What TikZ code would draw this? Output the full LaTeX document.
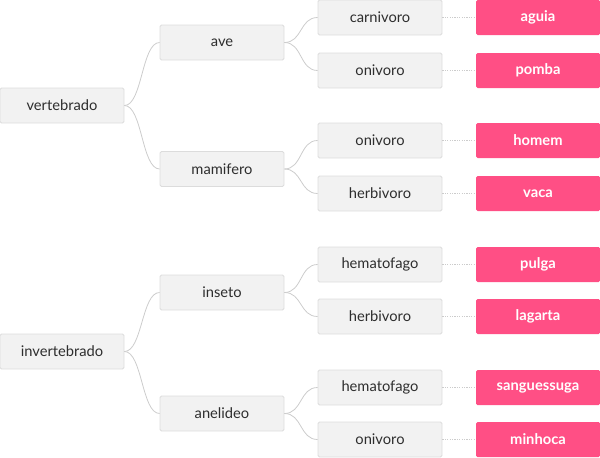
\documentclass[tikz,border=0pt]{standalone}
\usepackage{fontspec}
\setmainfont{Lato}
\definecolor{boxfill}{HTML}{F2F2F2}
\definecolor{boxline}{HTML}{DCDCDC}
\definecolor{leaf}{HTML}{FF4F85}
\definecolor{wire}{HTML}{CCCCCC}
\definecolor{txt}{HTML}{2E2E2E}
\begin{document}
\begin{tikzpicture}[x=1pt,y=-1pt,
  greybox/.style={draw=boxline,fill=boxfill,rounded corners=1.5pt,line width=0.8pt,
    minimum width=124pt,minimum height=35pt,inner sep=0pt,text=txt,
    font=\fontsize{14.7}{16}\selectfont},
  pinkbox/.style={fill=leaf,rounded corners=1.5pt,
    minimum width=124pt,minimum height=35pt,inner sep=0pt,text=white,
    font=\fontsize{14.7}{16}\selectfont\bfseries},
  curve/.style={draw=wire,line width=0.8pt},
  dots/.style={draw=wire,line width=0.8pt,dash pattern=on 1.2pt off 1.2pt}]
\useasboundingbox (0,0) rectangle (600,458);
% level 0
\node[greybox] (vert) at (62,105.5) {vertebrado};
\node[greybox] (inv) at (62,351.5) {invertebrado};
% level 1
\node[greybox] (ave) at (222,42.5) {ave};
\node[greybox] (mam) at (222,169) {mamifero};
\node[greybox] (ins) at (222,292.5) {inseto};
\node[greybox] (ane) at (222,413.5) {anelideo};
% level 2
\node[greybox] (c1) at (380,17.5) {carnivoro};
\node[greybox] (c2) at (380,70.5) {onivoro};
\node[greybox] (c3) at (380,140.5) {onivoro};
\node[greybox] (c4) at (380,193.5) {herbivoro};
\node[greybox] (c5) at (380,264.5) {hematofago};
\node[greybox] (c6) at (380,316.5) {herbivoro};
\node[greybox] (c7) at (380,387.5) {hematofago};
\node[greybox] (c8) at (380,439.5) {onivoro};
% leaves
\node[pinkbox] (l1) at (538,17.5) {aguia};
\node[pinkbox] (l2) at (538,70.5) {pomba};
\node[pinkbox] (l3) at (538,140.5) {homem};
\node[pinkbox] (l4) at (538,193.5) {vaca};
\node[pinkbox] (l5) at (538,264.5) {pulga};
\node[pinkbox] (l6) at (538,316.5) {lagarta};
\node[pinkbox] (l7) at (538,387.5) {sanguessuga};
\node[pinkbox] (l8) at (538,439.5) {minhoca};
% curved connectors
\foreach \p/\c in {vert/ave,vert/mam,inv/ins,inv/ane,ave/c1,ave/c2,mam/c3,mam/c4,ins/c5,ins/c6,ane/c7,ane/c8}{
  \draw[curve] (\p.east) .. controls ([xshift=18pt]\p.east) and ([xshift=-18pt]\c.west) .. (\c.west);
}
% dotted connectors
\foreach \i in {1,...,8}{
  \draw[dots] (c\i.east) -- (l\i.west);
}
\end{tikzpicture}
\end{document}
